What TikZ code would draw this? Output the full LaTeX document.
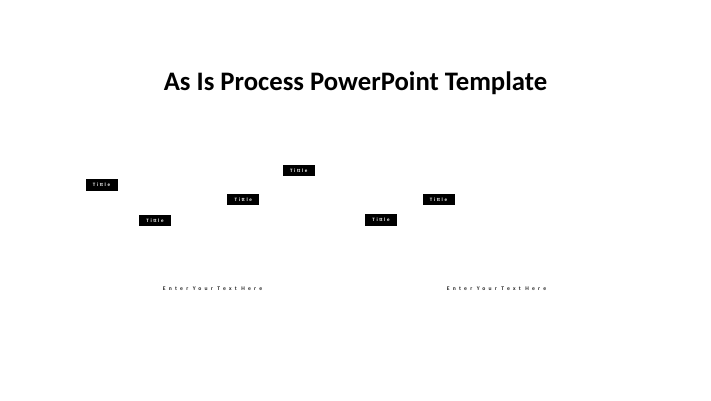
\documentclass[tikz,border=0pt]{standalone}
\usepackage{fontspec}
\setmainfont{Carlito}
\newfontfamily\ritkitott[LetterSpace=32]{Carlito}
\newfontfamily\ritkabb[LetterSpace=58]{Carlito}
\usetikzlibrary{positioning}

\tikzset{
  cim/.style={font=\fontsize{26.7}{30}\selectfont\bfseries,inner sep=0pt},
  tittle/.style={fill=black,text=white,minimum width=32pt,minimum height=11.5pt,inner sep=0pt,font=\ritkitott\fontsize{5}{6}\selectfont\bfseries},
  szoveg/.style={font=\ritkabb\fontsize{5.6}{6}\selectfont\bfseries,text=black!85,inner sep=0pt}
}

\begin{document}
\begin{tikzpicture}[x=1pt,y=-1pt]

    \fill[white] (0,0) rectangle (711,400); % hatter
    \useasboundingbox (0,0) rectangle (711,400);

    \node[cim] (title) at (355.5,83) {As Is Process PowerPoint Template};

    % dobozok
    \node[tittle] (t1) at (101.5,184.8) {Tittle};
    \node[tittle] (t2) at (155,220.7) {Tittle};
    \node[tittle] (t3) at (243.3,199.3) {Tittle};
    \node[tittle] (t4) at (298.7,170.5) {Tittle};
    \node[tittle] (t5) at (381,220) {Tittle};
    \node[tittle] (t6) at (438.5,199.3) {Tittle};

    \node[szoveg] (txt1) at (212.5,288.5) {Enter Your Text Here};
    \node[szoveg] (txt2) at (496.5,288.5) {Enter Your Text Here};

\end{tikzpicture}
\end{document}
